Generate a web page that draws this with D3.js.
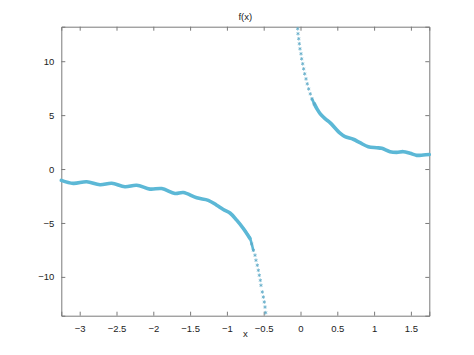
<!DOCTYPE html>
<html>
<head>
<meta charset="utf-8">
<script src="https://cdn.jsdelivr.net/npm/d3@7/dist/d3.min.js"></script>
<style>
  body { margin: 0; background: #fff; }
  svg text { font-family: "Liberation Sans", Arial, sans-serif; }
</style>
</head>
<body>
<svg width="474" height="355"></svg>
<script>
let svg = d3.select("svg")

// values
let xTicks = [-3, -2.5, -2, -1.5, -1, -0.5, 0, 0.5, 1, 1.5]
let yTicks = [-10, -5, 0, 5, 10]
let xLimits = [-3.25, 1.75]
let yLimits = [-13.6, 13.2]

// dense part of the left branch (markers overlap into a band)
let leftX = [-3.25, -3.087, -2.905, -2.724, -2.565, -2.385, -2.226, -2.045, -1.886, -1.705,
             -1.592, -1.41, -1.253, -1.139, -1.049, -0.958, -0.867, -0.777, -0.686]
let leftY = [-1.05, -1.33, -1.18, -1.46, -1.32, -1.64, -1.50, -1.86, -1.81, -2.26,
             -2.18, -2.67, -2.90, -3.35, -3.75, -4.08, -4.74, -5.51, -6.44]
// separate markers running down into the pole
let leftTailX = [-0.663, -0.641, -0.618, -0.605, -0.587, -0.573, -0.560, -0.546, -0.537, -0.519, -0.505, -0.492, -0.482, -0.473]
let leftTailY = [-6.95, -7.53, -7.99, -8.46, -8.92, -9.39, -9.85, -10.32, -10.78, -11.40, -11.87, -12.33, -12.80, -13.32]

// right branch, separate markers coming down from the pole
let rightHeadX = [-0.038, -0.034, -0.024, -0.016, -0.007, 0.007, 0.016, 0.030, 0.043, 0.057, 0.075, 0.092, 0.111, 0.133, 0.156, 0.188]
let rightHeadY = [13.01, 12.55, 12.08, 11.62, 11.15, 10.69, 10.22, 9.76, 9.29, 8.83, 8.36, 7.90, 7.43, 6.97, 6.51, 6.04]
// dense part of the right branch
let rightX = [0.188, 0.224, 0.269, 0.337, 0.401, 0.537, 0.605, 0.717, 0.808, 0.921, 1.035, 1.103, 1.216, 1.307, 1.397, 1.488, 1.579, 1.668, 1.75]
let rightY = [6.04, 5.58, 5.11, 4.65, 4.30, 3.32, 3.00, 2.76, 2.44, 2.07, 1.98, 1.92, 1.61, 1.55, 1.61, 1.46, 1.27, 1.30, 1.35]

let color = "#5cb8d6"
let markerColor = "#5fabc8"
let plotLeft = 61.3, plotRight = 429.3, plotTop = 26.7, plotBottom = 315.7

let x = d3.scaleLinear().domain(xLimits).range([plotLeft, plotRight])
let y = d3.scaleLinear().domain(yLimits).range([plotBottom, plotTop])

let zip = (xs, ys) => xs.map((v, i) => ({x: v, y: ys[i]}))

// axes box, MATLAB style with inward ticks on all four sides
let axisColor = "#7a7a7a"
let tickLen = 4

svg.append("g")
    .attr("transform", `translate(0,${plotBottom})`)
    .call(d3.axisBottom(x).tickValues(xTicks).tickSize(-tickLen).tickPadding(6 + tickLen)
      .tickFormat(d3.format("")))
svg.append("g")
    .attr("transform", `translate(0,${plotTop})`)
    .call(d3.axisTop(x).tickValues(xTicks).tickSize(-tickLen).tickFormat(""))
svg.append("g")
    .attr("transform", `translate(${plotLeft},0)`)
    .call(d3.axisLeft(y).tickValues(yTicks).tickSize(-tickLen).tickPadding(3 + tickLen)
      .tickFormat(d3.format("")))
svg.append("g")
    .attr("transform", `translate(${plotRight},0)`)
    .call(d3.axisRight(y).tickValues(yTicks).tickSize(-tickLen).tickFormat(""))

svg.selectAll(".domain").attr("stroke", axisColor)
svg.selectAll(".tick line").attr("stroke", axisColor)
svg.selectAll(".tick text").attr("fill", "#222").style("font-size", "9.5px")

// data marks
let line = d3.line().x(d => x(d.x)).y(d => y(d.y)).curve(d3.curveCatmullRom)
let star = d3.symbol().type(d3.symbolAsterisk).size(9)

let plot = svg.append("g")
let bands = [
  {pts: zip(leftX, leftY), w: 3.6},
  {pts: zip(rightX, rightY), w: 3.6},
  // the markers still touch just after the dense part, so a thinner band
  {pts: zip(leftX.slice(-2).concat(leftTailX.slice(0, 2)), leftY.slice(-2).concat(leftTailY.slice(0, 2))), w: 2.6},
  {pts: zip(rightHeadX.slice(-2), rightHeadY.slice(-2)), w: 2.6}
]
for (let b of bands) {
  plot.append("path")
    .datum(b.pts)
    .attr("d", line)
    .attr("fill", "none")
    .attr("stroke", color)
    .attr("stroke-width", b.w)
    .attr("stroke-linecap", "round")
}
let allPts = zip(leftTailX, leftTailY).concat(zip(rightHeadX, rightHeadY))
plot.selectAll(".pt")
  .data(allPts)
  .enter().append("path")
  .attr("class", "pt")
  .attr("transform", d => `translate(${x(d.x)},${y(d.y)})`)
  .attr("d", star)
  .attr("fill", "none")
  .attr("stroke", markerColor)
  .attr("stroke-width", 0.8)

// labels
svg.append("text")
  .attr("x", (plotLeft + plotRight) / 2).attr("y", 20)
  .attr("text-anchor", "middle")
  .style("font-size", "9.5px").attr("fill", "#222")
  .text("f(x)")
svg.append("text")
  .attr("x", (plotLeft + plotRight) / 2).attr("y", 337)
  .attr("text-anchor", "middle")
  .style("font-size", "9.5px").attr("fill", "#222")
  .text("x")
</script>
</body>
</html>
